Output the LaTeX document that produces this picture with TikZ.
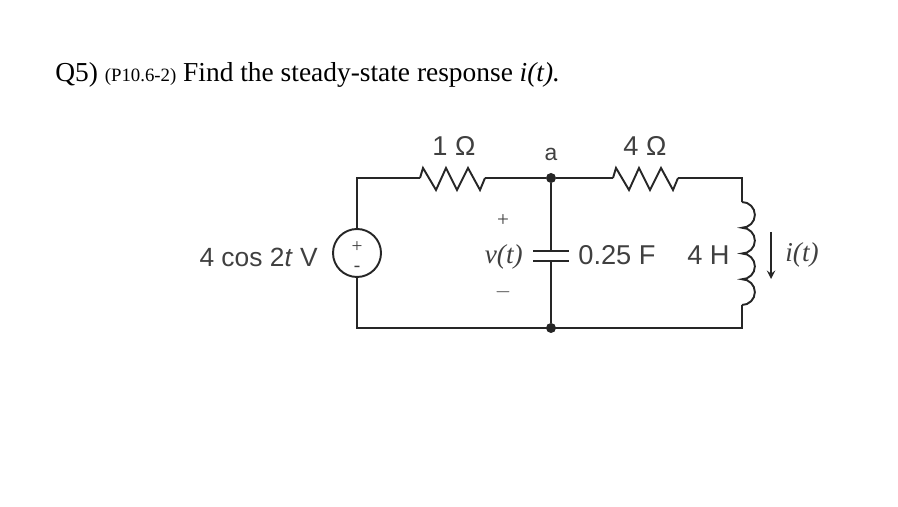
\documentclass[tikz,border=0pt]{standalone}
\usepackage{fontspec}
\setmainfont{Liberation Serif}
\setsansfont{Liberation Sans}
\usetikzlibrary{positioning}
\usetikzlibrary{calc}

\begin{document}
\begin{tikzpicture}
	\tikzstyle{wire} = [line width=1.1pt, black!85]
	\tikzstyle{resistor} = [to path={-- ++(.06,.2) -- ++(.26,-.44) -- ++(.2,.44) -- ++(.22,-.44) -- ++(.22,.44) -- ++(.24,-.44) -- (\tikztotarget)}]
	\tikzstyle{junction} = [circle, fill=black!85, inner sep=0pt, minimum size=.2cm]
	\tikzstyle{plate} = [rectangle, fill=black!85, inner sep=0pt, minimum width=.72cm, minimum height=1.1pt]
	\tikzstyle{source} = [circle, draw=black!85, line width=1.1pt, minimum size=.96cm, inner sep=0pt]
	\tikzstyle{value} = [font=\sffamily\fontsize{15.5}{18}\selectfont, text=black!75, inner sep=0pt]
	\tikzstyle{symb} = [font=\fontsize{15.5}{18}\selectfont, text=black!75, inner sep=0pt]
	\tikzstyle{polarity} = [font=\fontsize{11}{13}\selectfont, text=black!75, inner sep=0pt]

	\useasboundingbox (0,0) rectangle (17.96,10.14);

	\node (title) [anchor=base west, inner sep=0pt] at (1.1,8.5) {\fontsize{15.6}{18}\selectfont Q5) {\fontsize{10.7}{12}\selectfont (P10.6-2)} Find the steady-state response \textit{i(t).}};

	\node (vsrc) [source] at (7.14,5.08) {};
	\node (nodeA) [junction] at (11.02,6.58) {};
	\node (nodeB) [junction] at (11.02,3.58) {};
	\node (capTop) [plate] at (11.02,5.12) {};
	\node (capBot) [plate] at (11.02,4.92) {};

	\coordinate (cornerTL) at (7.14,6.58);
	\coordinate (cornerTR) at (14.84,6.58);
	\coordinate (cornerBL) at (7.14,3.58);
	\coordinate (cornerBR) at (14.84,3.58);
	\coordinate (resOneL) at (8.4,6.58);
	\coordinate (resOneR) at (9.7,6.58);
	\coordinate (resTwoL) at (12.26,6.58);
	\coordinate (resTwoR) at (13.56,6.58);
	\coordinate (coilTop) at (14.84,6.1);
	\coordinate (coilBot) at (14.84,4.04);

	\node (plusSrc) [polarity] at (7.14,5.2) {+};
	\node (minusSrc) [polarity] at (7.14,4.76) {-};
	\node (srcLabel) [value, font=\sffamily\fontsize{15}{18}\selectfont, anchor=east] at (6.36,5.0) {4 cos 2\textit{t} V};
	\node (resOneLabel) [value] at (9.08,7.22) {1 Ω};
	\node (aLabel) [value, font=\sffamily\fontsize{13}{15}\selectfont] at (11.02,7.06) {a};
	\node (resTwoLabel) [value] at (12.9,7.22) {4 Ω};
	\node (plusCap) [polarity, font=\fontsize{12}{14}\selectfont] at (10.06,5.72) {+};
	\node (minusCap) [polarity, font=\fontsize{12}{14}\selectfont] at (10.06,4.3) {$-$};
	\node (vLabel) [symb, anchor=east] at (10.46,5.0) {\textit{v(t)}};
	\node (capLabel) [value, anchor=west] at (11.56,5.04) {0.25 F};
	\node (coilLabel) [value, anchor=east] at (14.6,5.04) {4 H};
	\node (iLabel) [symb, anchor=west] at (15.7,5.04) {\textit{i(t)}};

	\coordinate (arrowTop) at (15.42,5.5);
	\coordinate (arrowBot) at (15.42,4.56);

	\draw [wire] (vsrc) -- (cornerTL) -- (resOneL);
	\draw [wire] (resOneL) to [resistor] (resOneR);
	\draw [wire] (resOneR) -- (nodeA);
	\draw [wire] (nodeA) -- (resTwoL);
	\draw [wire] (resTwoL) to [resistor] (resTwoR);
	\draw [wire] (resTwoR) -- (cornerTR) -- (coilTop);
	\draw [wire] (coilTop) arc (90:-90:.2575) arc (90:-90:.2575) arc (90:-90:.2575) arc (90:-90:.2575);
	\draw [wire] (coilBot) -- (cornerBR) -- (cornerBL) -- (vsrc);
	\draw [wire] (nodeA) -- (capTop);
	\draw [wire] (capBot) -- (nodeB);
	\draw [-stealth, wire] (arrowTop) -- (arrowBot);
\end{tikzpicture}
\end{document}
